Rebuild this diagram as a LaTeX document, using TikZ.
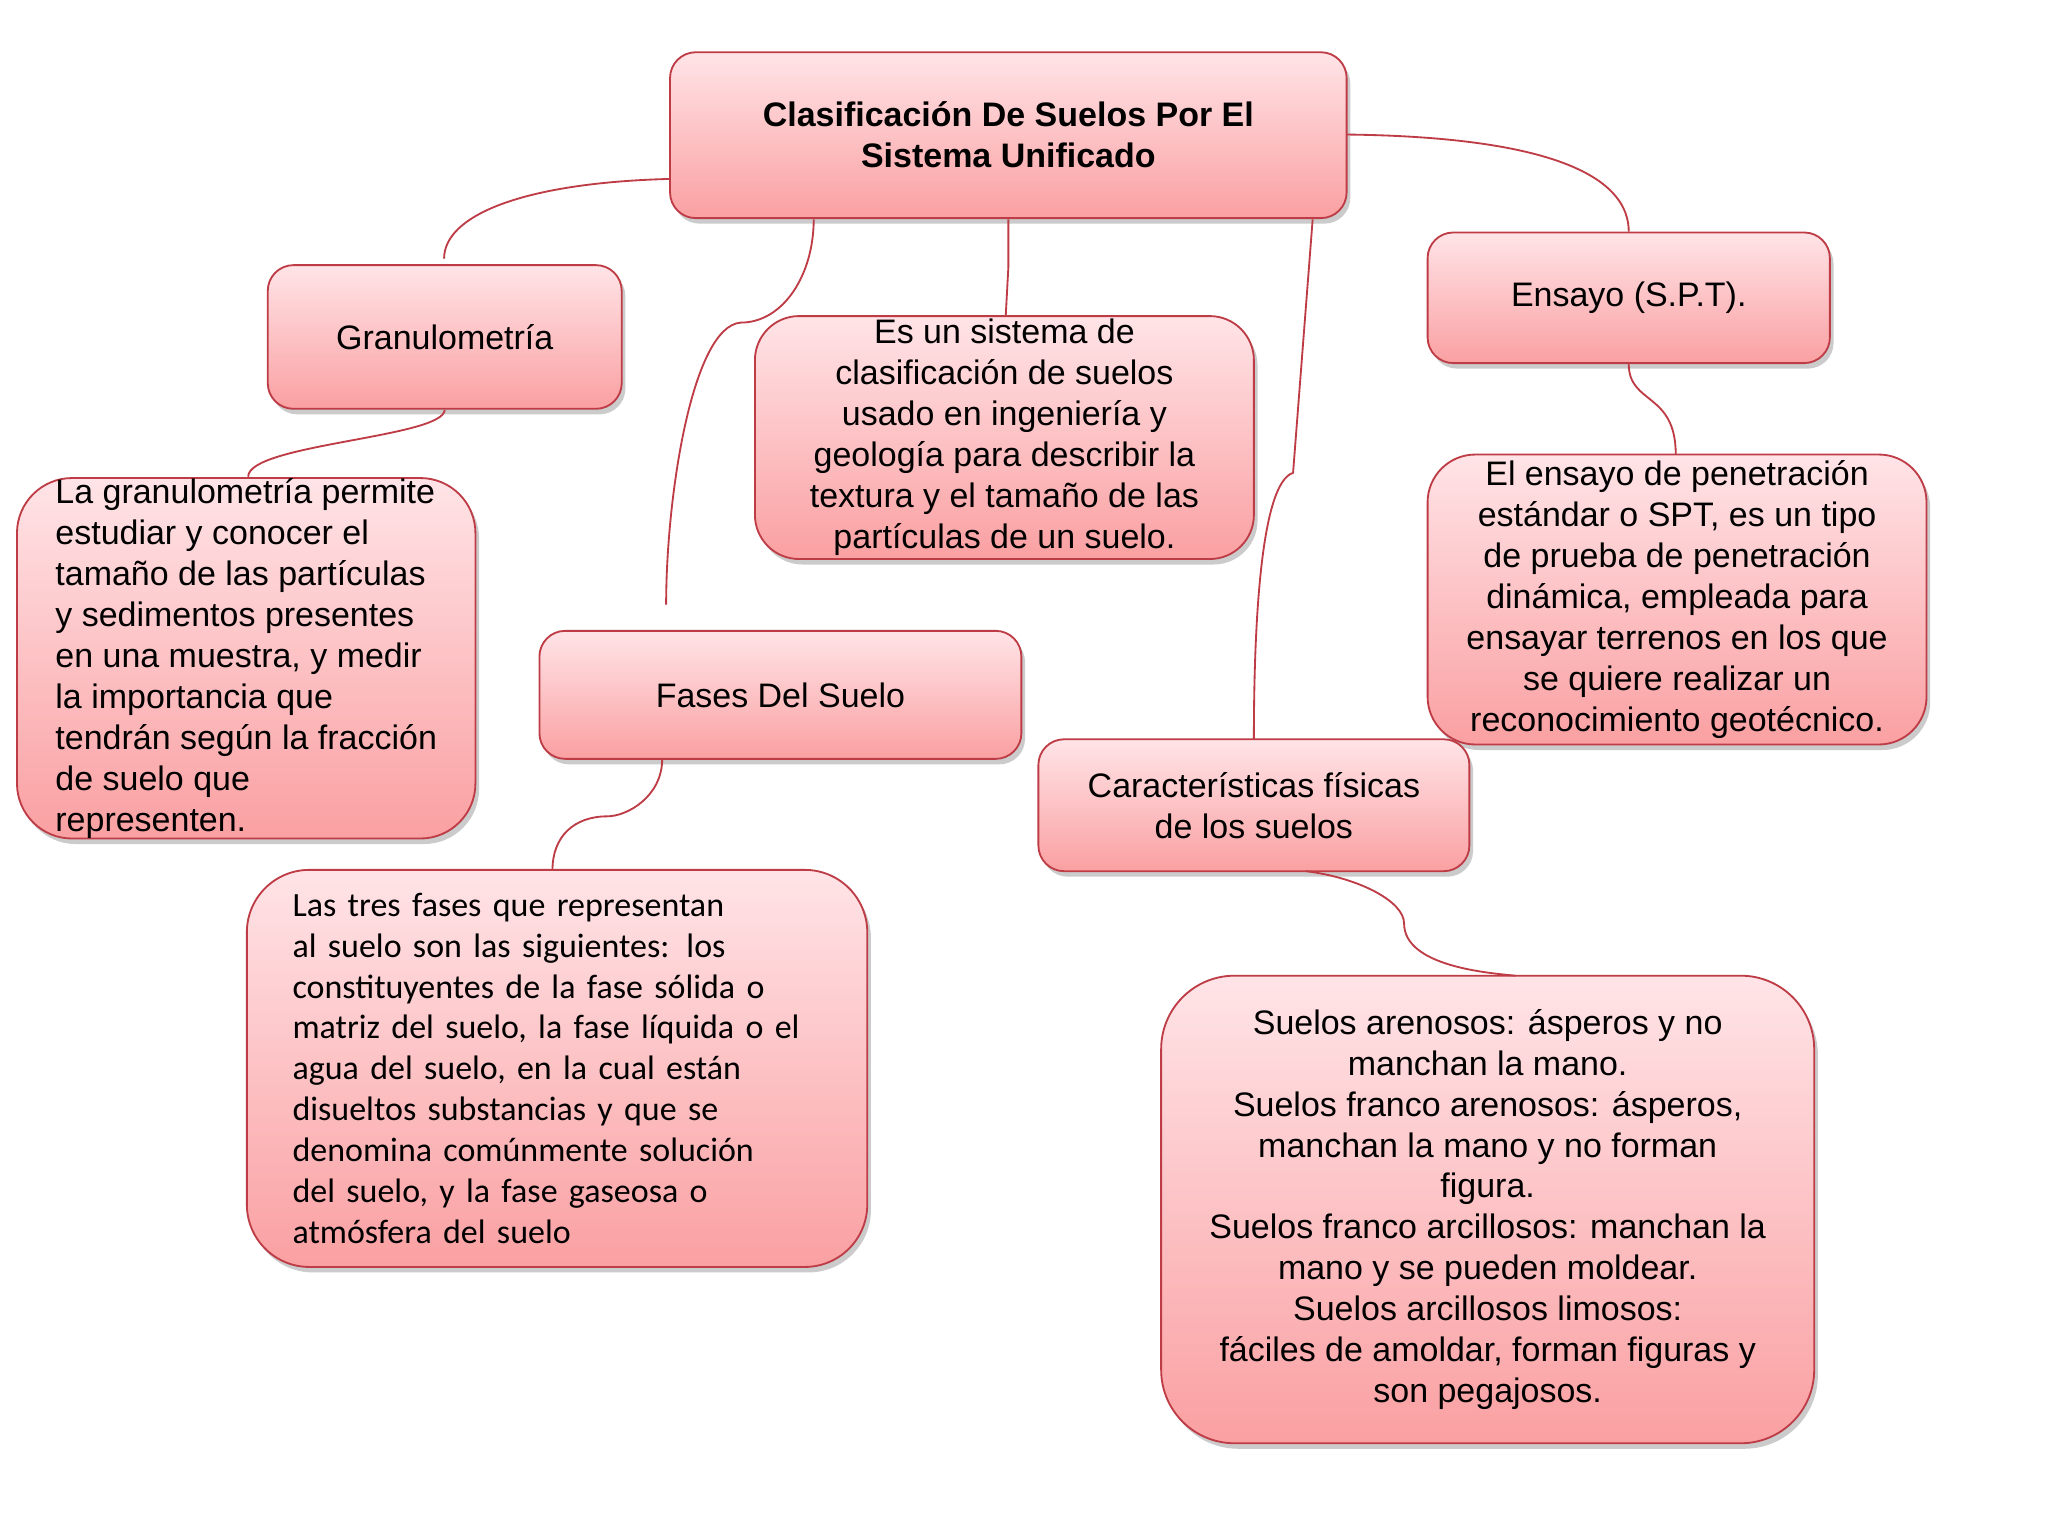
\documentclass[tikz,border=0pt]{standalone}
\usepackage{fontspec}
\setmainfont{Liberation Sans}
\newfontfamily\carl{Carlito}
\usetikzlibrary{shadows}
\definecolor{bord}{RGB}{190,60,70}
\definecolor{topc}{RGB}{255,228,231}
\definecolor{botc}{RGB}{250,160,162}
\tikzset{
 box/.style={draw=bord,line width=1pt,rounded corners=14pt,top color=topc,bottom color=botc,
   drop shadow={shadow xshift=2pt,shadow yshift=-3pt,fill=black!40},
   font=\fontsize{18.5}{22.3}\selectfont,align=center,inner sep=0pt},
 link/.style={draw=bord,line width=1pt}
}
\begin{document}
\begin{tikzpicture}[x=0.025cm,y=-0.025cm]
\useasboundingbox[fill=white] (0,0) rectangle (1568,1176);
\node[box,minimum width=518*0.025cm,minimum height=127*0.025cm,font=\fontsize{18.5}{22.3}\selectfont\bfseries] (t) at (772,103.5) {Clasificación De Suelos Por El\\Sistema Unificado};
\node[box,minimum width=271*0.025cm,minimum height=110*0.025cm] (g) at (340.5,258) {Granulometría};
\node[box,rounded corners=30pt,minimum width=351*0.025cm,minimum height=276*0.025cm,align=left] (gt) at (188.5,504) {La granulometría permite\\estudiar y conocer el\\tamaño de las partículas\\y sedimentos presentes\\en una muestra, y medir\\la importancia que\\tendrán según la fracción\\de suelo que\\representen.};
\node[box,rounded corners=24pt,minimum width=382*0.025cm,minimum height=186*0.025cm] (s) at (769,335) {Es un sistema de\\clasificación de suelos\\usado en ingeniería y\\geología para describir la\\textura y el tamaño de las\\partículas de un suelo.};
\node[box,minimum width=308*0.025cm,minimum height=100*0.025cm] (e) at (1247,228) {Ensayo (S.P.T).};
\node[box,rounded corners=26pt,minimum width=382*0.025cm,minimum height=222*0.025cm] (et) at (1284,459) {El ensayo de penetración\\estándar o SPT, es un tipo\\de prueba de penetración\\dinámica, empleada para\\ensayar terrenos en los que\\se quiere realizar un\\reconocimiento geotécnico.};
\node[box,minimum width=369*0.025cm,minimum height=98*0.025cm] (f) at (597.5,532) {Fases Del Suelo};
\node[box,rounded corners=34pt,minimum width=475*0.025cm,minimum height=304*0.025cm,align=left,font=\carl\fontsize{18.5}{22.3}\selectfont,text width=405*0.025cm] (ft) at (426.5,818) {Las tres fases que representan\\al suelo son las siguientes: los\\constituyentes de la fase sólida o\\matriz del suelo, la fase líquida o el\\agua del suelo, en la cual están\\disueltos substancias y que se\\denomina comúnmente solución\\del suelo, y la fase gaseosa o\\atmósfera del suelo};
\node[box,minimum width=330*0.025cm,minimum height=101*0.025cm] (c) at (960,616.5) {Características físicas\\de los suelos};
\node[box,rounded corners=40pt,minimum width=500*0.025cm,minimum height=358*0.025cm] (ct) at (1139,926) {Suelos arenosos: ásperos y no\\manchan la mano.\\Suelos franco arenosos: ásperos,\\manchan la mano y no forman\\figura.\\Suelos franco arcillosos: manchan la\\mano y se pueden moldear.\\Suelos arcillosos limosos:\\fáciles de amoldar, forman figuras y\\son pegajosos.};
\coordinate (f0) at (510,463);
\draw[link] (t.west|-0,137) .. controls (400,140) and (340,165) .. (340,198);
\draw[link] (g.south) .. controls (340,335) and (190,340) .. (190,365);
\draw[link] (623,168) .. controls (623,210) and (600,247) .. (567,247) .. controls (530,250) and (510,380) .. (f0);
\draw[link] (772,168) -- (772,205) -- (770,242);
\draw[link] (1005,168) -- (990,362) .. controls (965,370) and (960,480) .. (960,566);
\draw[link] (1031,103) .. controls (1200,105) and (1247,140) .. (e.north);
\draw[link] (e.south) .. controls (1247,310) and (1283,300) .. (1283,348);
\draw[link] (507,581) .. controls (507,610) and (480,625) .. (465,625) .. controls (440,625) and (423,640) .. (423,666);
\draw[link] (1000,667) .. controls (1040,672) and (1075,690) .. (1075,707) .. controls (1075,740) and (1140,745) .. (1160,747);
\end{tikzpicture}
\end{document}
